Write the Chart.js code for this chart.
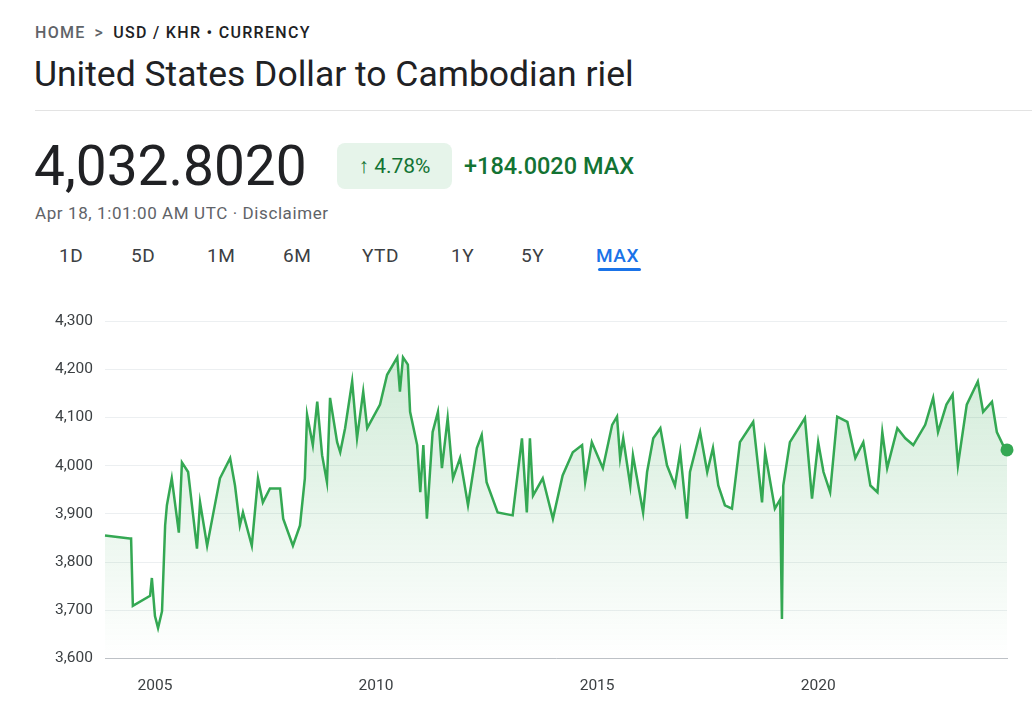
<!DOCTYPE html>
<html>
<head>
<meta charset="utf-8">
<script src="https://cdn.jsdelivr.net/npm/chart.js@4"></script>
<style>
  body { margin: 0; width: 1032px; height: 705px; background: #fff; font-family: Roboto, "Open Sans", sans-serif; color: #202124; position: relative; overflow: hidden; }
  .crumb { position: absolute; left: 35px; top: 23px; font-size: 16px; letter-spacing: 1.3px; font-weight: 500; }
  .crumb .home { color: #5f6368; }
  .crumb .sep { color: #5f6368; margin: 0 9px; }
  h1 { position: absolute; left: 34px; top: 53px; margin: 0; font-size: 35.5px; font-weight: 400; }
  .rule { position: absolute; left: 35px; right: 0; top: 110px; border-top: 1px solid #e3e3e3; }
  .price { position: absolute; left: 34px; top: 134px; font-size: 55px; font-weight: 400; }
  .badge { position: absolute; left: 337px; top: 143px; width: 115px; height: 46px; border-radius: 8px; background: #e6f4ea; color: #137333; font-size: 21px; line-height: 46px; text-align: center; }
  .delta { position: absolute; left: 464px; top: 152px; font-size: 23.5px; color: #137333; font-weight: 500; }
  .sub { position: absolute; left: 35px; top: 203px; font-size: 17px; letter-spacing: 0.6px; color: #5f6368; }
  .tabs span { position: absolute; top: 244px; font-size: 19px; color: #3c4043; letter-spacing: 0.5px; }
  .tabs .on { color: #1a73e8; font-weight: 500; }
  .ul { position: absolute; left: 598px; top: 268px; width: 43px; height: 3px; border-radius: 2px; background: #1a73e8; }
  #wrap { position: absolute; left: 0; top: 300px; width: 1032px; height: 405px; }
</style>
</head>
<body>
<div class="crumb"><span class="home">HOME</span><span class="sep">&gt;</span>USD / KHR • CURRENCY</div>
<h1>United States Dollar to Cambodian riel</h1>
<div class="rule"></div>
<div class="price">4,032.8020</div>
<div class="badge">↑ 4.78%</div>
<div class="delta">+184.0020 MAX</div>
<div class="sub">Apr 18, 1:01:00 AM UTC · Disclaimer</div>
<div class="tabs">
  <span style="left:59px">1D</span><span style="left:131px">5D</span><span style="left:207px">1M</span>
  <span style="left:283px">6M</span><span style="left:362px">YTD</span><span style="left:451px">1Y</span>
  <span style="left:521px">5Y</span><span class="on" style="left:596px">MAX</span>
</div>
<div class="ul"></div>
<div id="wrap"><canvas id="c"></canvas></div>
<script>
var years = [2003.87,2004.43,2004.46,2004.50,2004.89,2004.93,2005.00,2005.07,2005.16,2005.23,2005.27,2005.38,2005.54,2005.61,2005.75,2005.95,2006.02,2006.18,2006.31,2006.47,2006.70,2006.81,2006.92,2006.99,2007.19,2007.33,2007.44,2007.60,2007.83,2007.90,2008.12,2008.28,2008.39,2008.44,2008.57,2008.67,2008.78,2008.89,2008.96,2009.12,2009.19,2009.30,2009.46,2009.57,2009.71,2009.80,2010.09,2010.25,2010.48,2010.54,2010.61,2010.72,2010.77,2010.93,2011.00,2011.07,2011.15,2011.28,2011.40,2011.49,2011.62,2011.74,2011.90,2012.08,2012.28,2012.39,2012.50,2012.75,2013.09,2013.30,2013.41,2013.48,2013.55,2013.77,2014.00,2014.22,2014.45,2014.66,2014.73,2014.88,2015.13,2015.34,2015.45,2015.52,2015.59,2015.75,2015.81,2016.04,2016.13,2016.27,2016.43,2016.58,2016.76,2016.88,2017.03,2017.10,2017.33,2017.49,2017.62,2017.74,2017.89,2018.05,2018.23,2018.53,2018.73,2018.80,2019.02,2019.14,2019.18,2019.21,2019.36,2019.70,2019.86,2020.00,2020.12,2020.27,2020.43,2020.66,2020.84,2021.02,2021.18,2021.34,2021.45,2021.56,2021.79,2021.97,2022.15,2022.42,2022.60,2022.71,2022.90,2023.04,2023.16,2023.36,2023.61,2023.73,2023.93,2024.04,2024.18,2024.27];
var rates = [3855,3849,3849,3709,3730,3767,3688,3663,3698,3876,3918,3974,3861,4007,3987,3828,3924,3834,3897,3974,4016,3959,3876,3903,3834,3974,3924,3953,3953,3890,3834,3876,3974,4106,4043,4133,4022,3966,4141,4049,4028,4078,4175,4057,4154,4078,4127,4189,4225,4154,4225,4210,4112,4043,3945,4043,3890,4070,4112,3995,4099,3974,4016,3918,4037,4064,3966,3903,3897,4057,3903,4057,3938,3974,3890,3980,4028,4043,3966,4049,3995,4085,4102,4016,4057,3959,4022,3903,3987,4057,4078,4001,3959,4028,3890,3987,4070,3987,4037,3959,3918,3911,4049,4091,3924,4028,3911,3930,3682,3959,4049,4099,3932,4049,3987,3945,4102,4091,4016,4049,3959,3945,4070,3995,4078,4057,4043,4085,4141,4070,4127,4148,4001,4127,4175,4112,4133,4070,4043,4033];
var yTicks = [3600,3700,3800,3900,4000,4100,4200,4300];
var xTicks = [2005,2010,2015,2020];

var pts = years.map(function(y, i) { return {x: y, y: rates[i]}; });
var lastIdx = pts.length - 1;

new Chart(document.getElementById("c"), {
  type: "line",
  data: {
    datasets: [{
      data: pts,
      borderColor: "#34a853",
      borderWidth: 2.5,
      tension: 0,
      clip: false,
      pointRadius: function(ctx) { return ctx.dataIndex === lastIdx ? 6.5 : 0; },
      pointBackgroundColor: "#34a853",
      pointBorderWidth: 0,
      fill: true,
      backgroundColor: function(ctx) {
        var a = ctx.chart.chartArea;
        if (!a) return "rgba(52,168,83,0.15)";
        var g = ctx.chart.ctx.createLinearGradient(0, a.top, 0, a.bottom);
        g.addColorStop(0, "rgba(52,168,83,0.25)");
        g.addColorStop(1, "rgba(52,168,83,0)");
        return g;
      }
    }]
  },
  options: {
    responsive: true,
    maintainAspectRatio: false,
    animation: false,
    layout: { padding: { top: 13, right: 25, left: 0, bottom: 0 } },
    plugins: { legend: { display: false }, tooltip: { enabled: false } },
    scales: {
      x: {
        type: "linear", min: 2003.87, max: 2024.27,
        afterBuildTicks: function(s) { s.ticks = xTicks.map(function(v) { return {value: v}; }); },
        ticks: { color: "#3c4043", font: { size: 15.5, family: "Roboto" }, padding: 10, callback: function(v) { return String(v); } },
        grid: { display: false },
        border: { color: "#bdc1c6" }
      },
      y: {
        min: 3600, max: 4300,
        afterBuildTicks: function(s) { s.ticks = yTicks.map(function(v) { return {value: v}; }); },
        afterFit: function(s) { s.width = 105; },
        ticks: { color: "#3c4043", font: { size: 15.5, family: "Roboto" }, padding: 12,
          callback: function(v) { return v.toLocaleString("en-US"); } },
        grid: { color: "#eceff1", drawTicks: false },
        border: { display: false }
      }
    }
  }
});
</script>
</body>
</html>
